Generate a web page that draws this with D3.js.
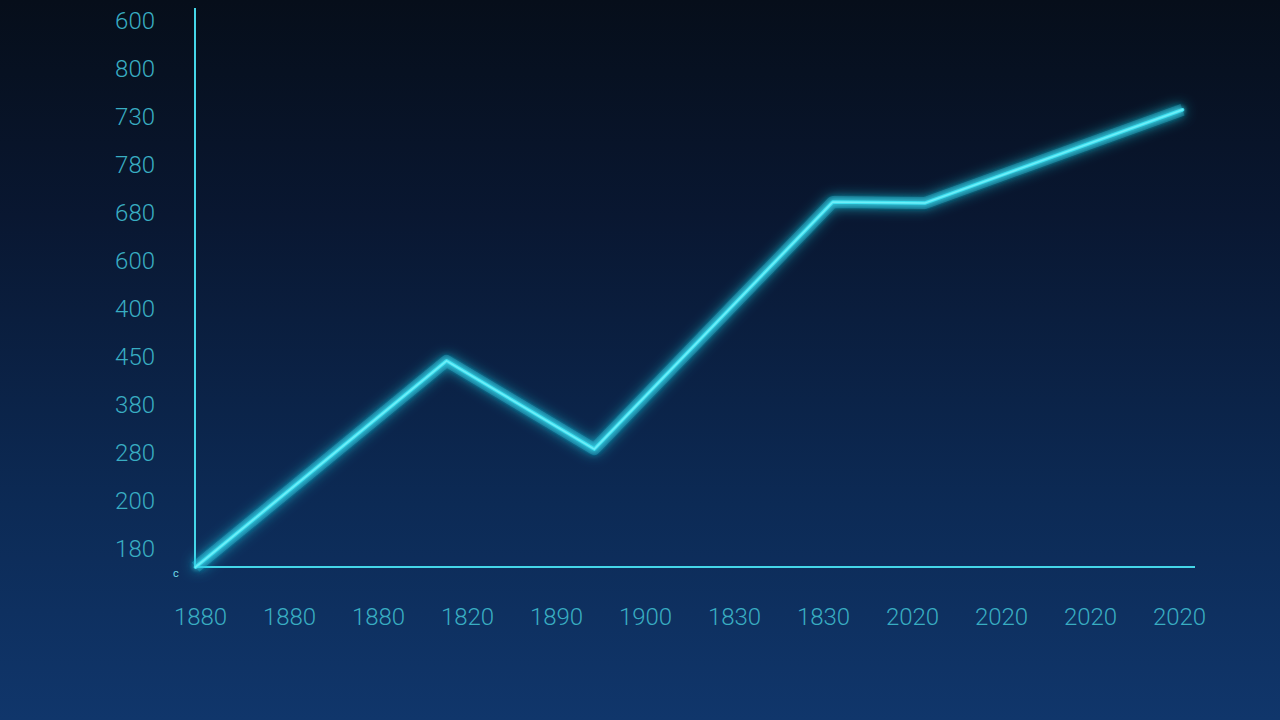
<!DOCTYPE html>
<html>
<head>
<meta charset="utf-8">
<script src="https://cdn.jsdelivr.net/npm/d3@7/dist/d3.min.js"></script>
<style>
  html, body { margin: 0; padding: 0; background: #07101d; }
  svg { display: block; }
</style>
</head>
<body>
<svg id="chart" width="1280" height="720"></svg>
<script>
// Tick labels as printed on the reference (top to bottom / left to right)
const yTickLabels = ["600", "800", "730", "780", "680", "600", "400", "450", "380", "280", "200", "180"];
const xTickLabels = ["1880", "1880", "1880", "1820", "1890", "1900", "1830", "1830", "2020", "2020", "2020", "2020"];
// Series: positions measured in tick-slot units along each axis
const seriesX = [-0.05, 2.77, 4.43, 7.11, 8.15, 11.04];
const seriesY = [-0.4, 3.9, 2.06, 7.21, 7.19, 9.13];

const svg = d3.select("#chart");
const W = 1280, H = 720;

const defs = svg.append("defs");
const bg = defs.append("linearGradient").attr("id", "bg")
  .attr("x1", 0).attr("y1", 0).attr("x2", 0).attr("y2", 1);
bg.append("stop").attr("offset", "0%").attr("stop-color", "#060e1a");
bg.append("stop").attr("offset", "30%").attr("stop-color", "#091731");
bg.append("stop").attr("offset", "70%").attr("stop-color", "#0c2a55");
bg.append("stop").attr("offset", "100%").attr("stop-color", "#10366b");

const glow = defs.append("filter").attr("id", "glow")
  .attr("x", "-10%").attr("y", "-20%").attr("width", "120%").attr("height", "140%");
glow.append("feGaussianBlur").attr("in", "SourceGraphic").attr("stdDeviation", 7).attr("result", "b1");
glow.append("feGaussianBlur").attr("in", "SourceGraphic").attr("stdDeviation", 2.5).attr("result", "b2");
const m = glow.append("feMerge");
m.append("feMergeNode").attr("in", "b1");
m.append("feMergeNode").attr("in", "b2");
m.append("feMergeNode").attr("in", "SourceGraphic");

svg.append("rect").attr("width", W).attr("height", H).attr("fill", "url(#bg)");

const x = d3.scaleLinear().domain([0, 11]).range([200, 1179]);
const y = d3.scaleLinear().domain([0, 11]).range([548, 20]);

const labelColor = "#39adc2";
const font = "Roboto, 'DejaVu Sans', sans-serif";

// Y axis labels (via d3 axis, domain hidden)
const yAxis = d3.axisLeft(y)
  .tickValues(d3.range(yTickLabels.length))
  .tickFormat(i => yTickLabels[yTickLabels.length - 1 - i])
  .tickSize(0).tickPadding(0);
const gy = svg.append("g").attr("transform", "translate(155,0)").call(yAxis);
gy.select(".domain").remove();
gy.selectAll("text").attr("fill", labelColor).attr("font-size", 24).attr("font-weight", 300)
  .attr("font-family", font).attr("dy", "0.34em");

// X axis labels
const xAxis = d3.axisBottom(x)
  .tickValues(d3.range(xTickLabels.length))
  .tickFormat(i => xTickLabels[i])
  .tickSize(0).tickPadding(0);
const gx = svg.append("g").attr("transform", "translate(0,617)").call(xAxis);
gx.select(".domain").remove();
gx.selectAll("text").attr("fill", labelColor).attr("font-size", 24).attr("font-weight", 300)
  .attr("font-family", font).attr("dy", "0.34em");

// Axis lines
const axisColor = "#45d6e8";
const x0 = 195, yBase = 567;
svg.append("line").attr("x1", x0).attr("x2", x0).attr("y1", 8).attr("y2", yBase)
  .attr("stroke", axisColor).attr("stroke-width", 2);
svg.append("line").attr("x1", x0).attr("x2", 1195).attr("y1", yBase).attr("y2", yBase)
  .attr("stroke", axisColor).attr("stroke-width", 2);

// small origin mark
svg.append("text").attr("x", 176).attr("y", 577).attr("fill", "#6fd8e8")
  .attr("font-size", 11).attr("font-family", font).attr("text-anchor", "middle").text("c");

// Line with glow
const pts = seriesX.map((v, i) => [x(v), y(seriesY[i])]);
const line = d3.line();
svg.append("path").attr("d", line(pts)).attr("fill", "none")
  .attr("stroke", "#1fb8d8").attr("stroke-width", 12).attr("stroke-opacity", 0.3)
  .attr("stroke-linejoin", "round").attr("filter", "url(#glow)");
svg.append("path").attr("d", line(pts)).attr("fill", "none")
  .attr("stroke", "#3fe0f0").attr("stroke-width", 3.5)
  .attr("stroke-linejoin", "round").attr("stroke-linecap", "round").attr("filter", "url(#glow)");
svg.append("path").attr("d", line(pts)).attr("fill", "none")
  .attr("stroke", "#70eef8").attr("stroke-width", 1.5)
  .attr("stroke-linejoin", "round").attr("stroke-linecap", "round");
</script>
</body>
</html>
